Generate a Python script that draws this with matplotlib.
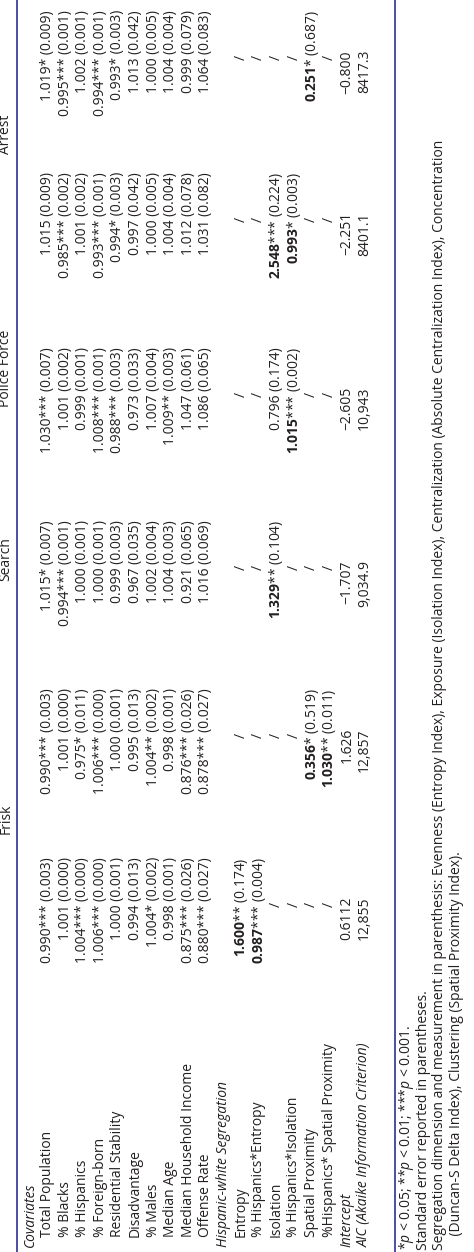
import matplotlib
matplotlib.use("Agg")
import matplotlib.pyplot as plt

plt.rcParams['font.family'] = ['Open Sans', 'DejaVu Sans']
plt.rcParams['mathtext.fontset'] = 'custom'
plt.rcParams['mathtext.rm'] = 'Open Sans'
plt.rcParams['mathtext.it'] = 'Open Sans:italic'
plt.rcParams['mathtext.bf'] = 'Open Sans:bold'

models = ['Frisk', 'Search', 'Police Force', 'Arrest']
model_pos = [830, 577, 403, 150]

covariates = ['Total Population', '% Blacks', '% Hispanics', '% Foreign-born',
              'Residential Stability', 'Disadvantage', '% Males', 'Median Age',
              'Median Household Income', 'Offense Rate']
seg_rows = ['Entropy', '% Hispanics*Entropy', 'Isolation', '% Hispanics*Isolation',
            'Spatial Proximity', '%Hispanics* Spatial Proximity']

frisk1 = ['0.990*** (0.003)', '1.001 (0.000)', '1.004*** (0.000)', '1.006*** (0.000)',
          '1.000 (0.001)', '0.994 (0.013)', '1.004* (0.002)', '0.998 (0.001)',
          '0.875*** (0.026)', '0.880*** (0.027)']
frisk2 = ['0.990*** (0.003)', '1.001 (0.000)', '0.975* (0.011)', '1.006*** (0.000)',
          '1.000 (0.001)', '0.995 (0.013)', '1.004** (0.002)', '0.998 (0.001)',
          '0.876*** (0.026)', '0.878*** (0.027)']
search = ['1.015* (0.007)', '0.994*** (0.001)', '1.000 (0.001)', '1.000 (0.001)',
          '0.999 (0.003)', '0.967 (0.035)', '1.002 (0.004)', '1.004 (0.003)',
          '0.921 (0.065)', '1.016 (0.069)']
police = ['1.030*** (0.007)', '1.001 (0.002)', '0.999 (0.001)', '1.008*** (0.001)',
          '0.988*** (0.003)', '0.973 (0.033)', '1.007 (0.004)', '1.009** (0.003)',
          '1.047 (0.061)', '1.086 (0.065)']
arrest1 = ['1.015 (0.009)', '0.985*** (0.002)', '1.001 (0.002)', '0.993*** (0.001)',
           '0.994* (0.003)', '0.997 (0.042)', '1.000 (0.005)', '1.004 (0.004)',
           '1.012 (0.078)', '1.031 (0.082)']
arrest2 = ['1.019* (0.009)', '0.995*** (0.001)', '1.002 (0.001)', '0.994*** (0.001)',
           '0.993* (0.003)', '1.013 (0.042)', '1.000 (0.005)', '1.004 (0.004)',
           '0.999 (0.079)', '1.064 (0.083)']

# segregation cells: None means "/"
seg_frisk1 = [r'$\mathbf{1.600}$** (0.174)', r'$\mathbf{0.987}$*** (0.004)', None, None, None, None]
seg_frisk2 = [None, None, None, None, r'$\mathbf{0.356}$* (0.519)', r'$\mathbf{1.030}$** (0.011)']
seg_search = [None, None, r'$\mathbf{1.329}$** (0.104)', None, None, None]
seg_police = [None, None, '0.796 (0.174)', r'$\mathbf{1.015}$*** (0.002)', None, None]
seg_arrest1 = [None, None, r'$\mathbf{2.548}$*** (0.224)', r'$\mathbf{0.993}$* (0.003)', None, None]
seg_arrest2 = [None, None, None, None, r'$\mathbf{0.251}$* (0.687)', None]

intercepts = ['0.6112', '1.626', '\u22121.707', '\u22122.605', '\u22122.251', '\u22120.800']
aic = ['12,855', '12,857', '9,034.9', '10,943', '8401.1', '8417.3']

footnotes = [r'*$p$ < 0.05; **$p$ < 0.01; ***$p$ < 0.001.',
             'Standard error reported in parentheses.',
             'Segregation dimension and measurement in parenthesis: Evenness (Entropy Index), '
             'Exposure (Isolation Index), Centralization (Absolute Centralization Index), Concentration',
             '    (Duncan-S Delta Index), Clustering (Spatial Proximity Index).']

col_cov = [frisk1, frisk2, search, police, arrest1, arrest2]
col_seg = [seg_frisk1, seg_frisk2, seg_search, seg_police, seg_arrest1, seg_arrest2]
col_edge = [857, 688, 520, 347, 172, 10]

fig = plt.figure(figsize=(4.74, 12.52), dpi=100)
ax = fig.add_axes([0, 0, 1, 1])
ax.set_xlim(0, 474)
ax.set_ylim(1252, 0)
ax.axis('off')

fs = 10
kw = dict(rotation=90, fontsize=fs, ha='center', color='#231f20')

for name, p in zip(models, model_pos):
    ax.text(6, p, name, **kw)

ax.axvline(17, color='#2e3192', lw=1.2)
ax.axvline(395, color='#2e3192', lw=1.2)

dx = 17.6
x = 30
ax.text(x, 1247, 'Covariates', va='bottom', fontstyle='italic', **kw)
for i, lab in enumerate(covariates):
    xr = x + dx * (i + 1)
    ax.text(xr, 1237, lab, va='bottom', **kw)
    for col, edge in zip(col_cov, col_edge):
        ax.text(xr, edge, col[i], va='top', **kw)

x = 30 + dx * 11
ax.text(x, 1247, 'Hispanic-white Segregation', va='bottom', fontstyle='italic', **kw)
for i, lab in enumerate(seg_rows):
    xr = x + dx * (i + 1)
    ax.text(xr, 1237, lab, va='bottom', **kw)
    for col, edge in zip(col_seg, col_edge):
        if col[i] is None:
            ax.text(xr, edge + 47, '/', va='center', **kw)
        else:
            ax.text(xr, edge, col[i], va='top', **kw)

x = 30 + dx * 18
ax.text(x, 1247, 'Intercept', va='bottom', fontstyle='italic', **kw)
ax.text(x + dx, 1247, 'AIC (Akaike Information Criterion)', va='bottom', fontstyle='italic', **kw)
for i, edge in enumerate(col_edge):
    ax.text(x, edge + 40, intercepts[i], va='top', **kw)
    ax.text(x + dx, edge + 40, aic[i], va='top', **kw)

for i, line in enumerate(footnotes):
    ax.text(407 + 16.5 * i, 1250, line, va='bottom', **kw)

fig.savefig('out.png', dpi=100)
